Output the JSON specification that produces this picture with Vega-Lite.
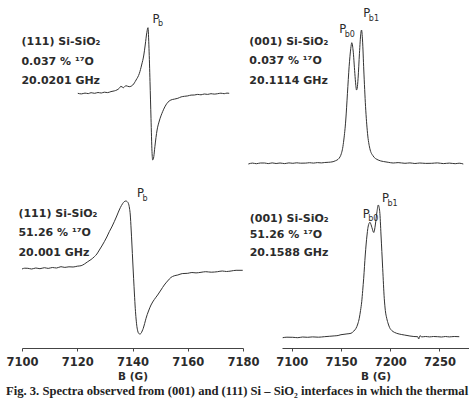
{
  "$schema": "https://vega.github.io/schema/vega-lite/v6.json",
  "background": "white",
  "padding": {"left": 5, "top": 0, "right": 0, "bottom": 0},
  "autosize": {"type": "pad"},
  "title": {
    "text": "Fig. 3. Spectra observed from (001) and (111) Si – SiO₂ interfaces in which the thermal",
    "orient": "bottom",
    "anchor": "start",
    "frame": "bounds",
    "font": "Liberation Serif",
    "fontSize": 12.6,
    "fontWeight": "bold",
    "color": "#222222",
    "offset": 3
  },
  "datasets": {
    "spectra": [
      {"panel": "TL", "B": 7120.2, "I": 0.2}, {"panel": "TL", "B": 7121.5, "I": -0.4}, {"panel": "TL", "B": 7122.8, "I": 0.4}, {"panel": "TL", "B": 7124.0, "I": -0.1}, {"panel": "TL", "B": 7125.0, "I": 0.8}, {"panel": "TL", "B": 7126.3, "I": 0.2}, {"panel": "TL", "B": 7127.5, "I": 1.0}, {"panel": "TL", "B": 7128.7, "I": 0.5}, {"panel": "TL", "B": 7129.8, "I": 1.3}, {"panel": "TL", "B": 7131.0, "I": 0.9}, {"panel": "TL", "B": 7132.2, "I": 1.9}, {"panel": "TL", "B": 7133.4, "I": 2.6}, {"panel": "TL", "B": 7134.4, "I": 3.6}, {"panel": "TL", "B": 7135.2, "I": 5.2}, {"panel": "TL", "B": 7135.8, "I": 7.2}, {"panel": "TL", "B": 7136.7, "I": 5.8}, {"panel": "TL", "B": 7137.6, "I": 7.8}, {"panel": "TL", "B": 7138.8, "I": 6.8}, {"panel": "TL", "B": 7140.1, "I": 8.5}, {"panel": "TL", "B": 7141.3, "I": 13.5}, {"panel": "TL", "B": 7142.5, "I": 20.2}, {"panel": "TL", "B": 7143.3, "I": 28.5}, {"panel": "TL", "B": 7144.1, "I": 38.5}, {"panel": "TL", "B": 7144.6, "I": 48.5}, {"panel": "TL", "B": 7145.2, "I": 61.2}, {"panel": "TL", "B": 7145.6, "I": 65.8}, {"panel": "TL", "B": 7145.97, "I": 45.2}, {"panel": "TL", "B": 7146.34, "I": 11.8}, {"panel": "TL", "B": 7146.7, "I": -24.8}, {"panel": "TL", "B": 7147.06, "I": -58.2}, {"panel": "TL", "B": 7147.31, "I": -66.5}, {"panel": "TL", "B": 7147.7, "I": -63.2}, {"panel": "TL", "B": 7148.1, "I": -53.2}, {"panel": "TL", "B": 7148.9, "I": -36.5}, {"panel": "TL", "B": 7149.7, "I": -27.5}, {"panel": "TL", "B": 7150.9, "I": -18.2}, {"panel": "TL", "B": 7152.5, "I": -9.8}, {"panel": "TL", "B": 7153.9, "I": -6.5}, {"panel": "TL", "B": 7155.2, "I": -5.6}, {"panel": "TL", "B": 7156.4, "I": -4.8}, {"panel": "TL", "B": 7157.6, "I": -3.4}, {"panel": "TL", "B": 7158.8, "I": -2.8}, {"panel": "TL", "B": 7160.0, "I": -2.4}, {"panel": "TL", "B": 7161.2, "I": -1.6}, {"panel": "TL", "B": 7162.4, "I": -1.5}, {"panel": "TL", "B": 7163.6, "I": -0.9}, {"panel": "TL", "B": 7164.8, "I": -1.3}, {"panel": "TL", "B": 7166.0, "I": -0.5}, {"panel": "TL", "B": 7167.2, "I": -0.9}, {"panel": "TL", "B": 7168.4, "I": -0.2}, {"panel": "TL", "B": 7169.6, "I": -0.6}, {"panel": "TL", "B": 7170.8, "I": -0.2}, {"panel": "TL", "B": 7172.0, "I": 0.3}, {"panel": "TL", "B": 7173.2, "I": -0.2}, {"panel": "TL", "B": 7174.2, "I": 0.4}, {"panel": "TL", "B": 7175.0, "I": 0.2},

      {"panel": "TR", "B": 7055.8, "I": -0.7}, {"panel": "TR", "B": 7060, "I": 0.2}, {"panel": "TR", "B": 7064, "I": -0.4}, {"panel": "TR", "B": 7068, "I": 0.3}, {"panel": "TR", "B": 7072.3, "I": 0.3}, {"panel": "TR", "B": 7076, "I": -0.3}, {"panel": "TR", "B": 7080, "I": 0.4}, {"panel": "TR", "B": 7084, "I": -0.2}, {"panel": "TR", "B": 7088, "I": 0.3}, {"panel": "TR", "B": 7092.7, "I": -0.3}, {"panel": "TR", "B": 7097, "I": 0.4}, {"panel": "TR", "B": 7101, "I": 0.0}, {"panel": "TR", "B": 7105, "I": 0.5}, {"panel": "TR", "B": 7109, "I": 0.1}, {"panel": "TR", "B": 7114.1, "I": 0.2}, {"panel": "TR", "B": 7118, "I": 0.6}, {"panel": "TR", "B": 7122, "I": 0.2}, {"panel": "TR", "B": 7126, "I": 0.7}, {"panel": "TR", "B": 7130, "I": 0.4}, {"panel": "TR", "B": 7133.4, "I": 0.8}, {"panel": "TR", "B": 7137, "I": 1.0}, {"panel": "TR", "B": 7141.9, "I": 1.6}, {"panel": "TR", "B": 7144.5, "I": 2.6}, {"panel": "TR", "B": 7147.0, "I": 4.0}, {"panel": "TR", "B": 7149, "I": 6.5}, {"panel": "TR", "B": 7150.4, "I": 10}, {"panel": "TR", "B": 7151.6, "I": 15}, {"panel": "TR", "B": 7152.8, "I": 23.3}, {"panel": "TR", "B": 7154.8, "I": 43.3}, {"panel": "TR", "B": 7156.5, "I": 70}, {"panel": "TR", "B": 7158.2, "I": 96.6}, {"panel": "TR", "B": 7159.9, "I": 115}, {"panel": "TR", "B": 7160.9, "I": 120.6}, {"panel": "TR", "B": 7162.2, "I": 113.3}, {"panel": "TR", "B": 7164.0, "I": 90}, {"panel": "TR", "B": 7165.0, "I": 78}, {"panel": "TR", "B": 7165.7, "I": 73.3}, {"panel": "TR", "B": 7166.4, "I": 75}, {"panel": "TR", "B": 7167.3, "I": 85}, {"panel": "TR", "B": 7168.7, "I": 110}, {"panel": "TR", "B": 7170.1, "I": 130}, {"panel": "TR", "B": 7170.8, "I": 133.3}, {"panel": "TR", "B": 7171.8, "I": 123.3}, {"panel": "TR", "B": 7173.1, "I": 93.3}, {"panel": "TR", "B": 7174.9, "I": 56.6}, {"panel": "TR", "B": 7176.9, "I": 30}, {"panel": "TR", "B": 7179.2, "I": 15}, {"panel": "TR", "B": 7182.6, "I": 7.3}, {"panel": "TR", "B": 7187.7, "I": 3.3}, {"panel": "TR", "B": 7193, "I": 1.8}, {"panel": "TR", "B": 7197.9, "I": 1.0}, {"panel": "TR", "B": 7203, "I": 0.3}, {"panel": "TR", "B": 7208, "I": 0.7}, {"panel": "TR", "B": 7214.9, "I": 0.0}, {"panel": "TR", "B": 7220, "I": 0.4}, {"panel": "TR", "B": 7225, "I": -0.2}, {"panel": "TR", "B": 7230, "I": 0.3}, {"panel": "TR", "B": 7236, "I": -0.1}, {"panel": "TR", "B": 7242.1, "I": 0.0}, {"panel": "TR", "B": 7248, "I": 0.4}, {"panel": "TR", "B": 7254, "I": -0.3}, {"panel": "TR", "B": 7260, "I": 0.2}, {"panel": "TR", "B": 7266, "I": -0.4}, {"panel": "TR", "B": 7270, "I": 0.1}, {"panel": "TR", "B": 7274.2, "I": -0.7},

      {"panel": "BL", "B": 7100.0, "I": 1.0}, {"panel": "BL", "B": 7101.0, "I": 1.8}, {"panel": "BL", "B": 7102.1, "I": 1.7}, {"panel": "BL", "B": 7103.5, "I": 1.0}, {"panel": "BL", "B": 7105.0, "I": 2.0}, {"panel": "BL", "B": 7106.5, "I": 1.3}, {"panel": "BL", "B": 7108.1, "I": 2.3}, {"panel": "BL", "B": 7109.5, "I": 1.6}, {"panel": "BL", "B": 7111.0, "I": 2.5}, {"panel": "BL", "B": 7112.5, "I": 2.0}, {"panel": "BL", "B": 7114.1, "I": 3.3}, {"panel": "BL", "B": 7115.5, "I": 2.6}, {"panel": "BL", "B": 7117.0, "I": 3.2}, {"panel": "BL", "B": 7118.5, "I": 3.0}, {"panel": "BL", "B": 7120.0, "I": 3.8}, {"panel": "BL", "B": 7121.4, "I": 4.3}, {"panel": "BL", "B": 7122.6, "I": 6.0}, {"panel": "BL", "B": 7123.8, "I": 8.3}, {"panel": "BL", "B": 7125.0, "I": 10.5}, {"panel": "BL", "B": 7126.2, "I": 13.3}, {"panel": "BL", "B": 7127.1, "I": 16}, {"panel": "BL", "B": 7128.0, "I": 20}, {"panel": "BL", "B": 7128.9, "I": 24}, {"panel": "BL", "B": 7129.8, "I": 28.3}, {"panel": "BL", "B": 7130.7, "I": 33}, {"panel": "BL", "B": 7131.6, "I": 38.3}, {"panel": "BL", "B": 7132.5, "I": 43}, {"panel": "BL", "B": 7133.4, "I": 48.3}, {"panel": "BL", "B": 7134.3, "I": 54}, {"panel": "BL", "B": 7135.2, "I": 60}, {"panel": "BL", "B": 7136.0, "I": 64.5}, {"panel": "BL", "B": 7136.5, "I": 66.7}, {"panel": "BL", "B": 7137.0, "I": 68.3}, {"panel": "BL", "B": 7137.6, "I": 69}, {"panel": "BL", "B": 7138.1, "I": 68.3}, {"panel": "BL", "B": 7138.5, "I": 66.7}, {"panel": "BL", "B": 7138.9, "I": 62}, {"panel": "BL", "B": 7139.2, "I": 55}, {"panel": "BL", "B": 7139.5, "I": 41}, {"panel": "BL", "B": 7139.8, "I": 25}, {"panel": "BL", "B": 7140.1, "I": 8}, {"panel": "BL", "B": 7140.4, "I": -8.3}, {"panel": "BL", "B": 7140.7, "I": -24}, {"panel": "BL", "B": 7141.0, "I": -38.3}, {"panel": "BL", "B": 7141.3, "I": -49}, {"panel": "BL", "B": 7141.6, "I": -56.7}, {"panel": "BL", "B": 7141.9, "I": -61}, {"panel": "BL", "B": 7142.2, "I": -63.3}, {"panel": "BL", "B": 7142.7, "I": -64}, {"panel": "BL", "B": 7143.1, "I": -63.3}, {"panel": "BL", "B": 7143.5, "I": -61}, {"panel": "BL", "B": 7143.9, "I": -58.3}, {"panel": "BL", "B": 7144.4, "I": -53.5}, {"panel": "BL", "B": 7144.9, "I": -48.3}, {"panel": "BL", "B": 7145.8, "I": -41}, {"panel": "BL", "B": 7146.7, "I": -35}, {"panel": "BL", "B": 7147.9, "I": -29.5}, {"panel": "BL", "B": 7149.1, "I": -25}, {"panel": "BL", "B": 7150.3, "I": -20}, {"panel": "BL", "B": 7151.5, "I": -15}, {"panel": "BL", "B": 7152.7, "I": -11}, {"panel": "BL", "B": 7153.9, "I": -7.5}, {"panel": "BL", "B": 7155.1, "I": -5.8}, {"panel": "BL", "B": 7156.4, "I": -5}, {"panel": "BL", "B": 7158.0, "I": -3.6}, {"panel": "BL", "B": 7160.0, "I": -3.3}, {"panel": "BL", "B": 7161.5, "I": -2.5}, {"panel": "BL", "B": 7163.0, "I": -2.9}, {"panel": "BL", "B": 7164.8, "I": -2.3}, {"panel": "BL", "B": 7166.5, "I": -1.7}, {"panel": "BL", "B": 7168.5, "I": -2.2}, {"panel": "BL", "B": 7170.8, "I": -1.7}, {"panel": "BL", "B": 7172.5, "I": -1.0}, {"panel": "BL", "B": 7174.0, "I": -1.5}, {"panel": "BL", "B": 7175.7, "I": -1.0}, {"panel": "BL", "B": 7177.5, "I": -0.3}, {"panel": "BL", "B": 7179.9, "I": -0.3},

      {"panel": "BR", "B": 7090.7, "I": -0.2}, {"panel": "BR", "B": 7095, "I": 0.3}, {"panel": "BR", "B": 7100.9, "I": 0.2}, {"panel": "BR", "B": 7106, "I": -0.2}, {"panel": "BR", "B": 7111, "I": 0.5}, {"panel": "BR", "B": 7116, "I": 0.2}, {"panel": "BR", "B": 7121, "I": 0.6}, {"panel": "BR", "B": 7127, "I": 0.3}, {"panel": "BR", "B": 7133.0, "I": 0.8}, {"panel": "BR", "B": 7138, "I": 1.2}, {"panel": "BR", "B": 7143, "I": 1.6}, {"panel": "BR", "B": 7147, "I": 2.0}, {"panel": "BR", "B": 7149.9, "I": 2.8}, {"panel": "BR", "B": 7153, "I": 3.2}, {"panel": "BR", "B": 7156, "I": 3.6}, {"panel": "BR", "B": 7160.1, "I": 4.2}, {"panel": "BR", "B": 7163, "I": 6.5}, {"panel": "BR", "B": 7165.2, "I": 9.2}, {"panel": "BR", "B": 7167, "I": 13.5}, {"panel": "BR", "B": 7168.5, "I": 19.2}, {"panel": "BR", "B": 7169.8, "I": 27}, {"panel": "BR", "B": 7171.0, "I": 35.8}, {"panel": "BR", "B": 7172.0, "I": 47}, {"panel": "BR", "B": 7173.0, "I": 59.2}, {"panel": "BR", "B": 7174.6, "I": 82.5}, {"panel": "BR", "B": 7175.5, "I": 93.5}, {"panel": "BR", "B": 7176.4, "I": 102.5}, {"panel": "BR", "B": 7177.2, "I": 109}, {"panel": "BR", "B": 7178.1, "I": 113.2}, {"panel": "BR", "B": 7179.4, "I": 115.2}, {"panel": "BR", "B": 7180.4, "I": 113}, {"panel": "BR", "B": 7181.4, "I": 109.8}, {"panel": "BR", "B": 7183.2, "I": 105}, {"panel": "BR", "B": 7184.0, "I": 107.5}, {"panel": "BR", "B": 7184.8, "I": 112.5}, {"panel": "BR", "B": 7186.5, "I": 125.8}, {"panel": "BR", "B": 7187.8, "I": 132.5}, {"panel": "BR", "B": 7189.3, "I": 125.8}, {"panel": "BR", "B": 7190.6, "I": 102.5}, {"panel": "BR", "B": 7192.3, "I": 69.2}, {"panel": "BR", "B": 7193.9, "I": 39.2}, {"panel": "BR", "B": 7195.0, "I": 27}, {"panel": "BR", "B": 7196.4, "I": 19.2}, {"panel": "BR", "B": 7198.0, "I": 13.5}, {"panel": "BR", "B": 7199.4, "I": 9.8}, {"panel": "BR", "B": 7201.5, "I": 7}, {"panel": "BR", "B": 7204.1, "I": 5.2}, {"panel": "BR", "B": 7209, "I": 3.5}, {"panel": "BR", "B": 7214.3, "I": 2.5}, {"panel": "BR", "B": 7220, "I": 1.5}, {"panel": "BR", "B": 7224, "I": 1.0}, {"panel": "BR", "B": 7227.9, "I": 0.8}, {"panel": "BR", "B": 7228.9, "I": -1.5}, {"panel": "BR", "B": 7230.2, "I": 1.8}, {"panel": "BR", "B": 7232, "I": 0.6}, {"panel": "BR", "B": 7236, "I": 1.0}, {"panel": "BR", "B": 7240, "I": 0.6}, {"panel": "BR", "B": 7244, "I": 1.0}, {"panel": "BR", "B": 7248.2, "I": 0.8}, {"panel": "BR", "B": 7252, "I": 0.5}, {"panel": "BR", "B": 7256, "I": 1.0}, {"panel": "BR", "B": 7260, "I": 0.6}, {"panel": "BR", "B": 7265, "I": 1.0}, {"panel": "BR", "B": 7270.1, "I": 0.8}
    ],
    "notes": [
      {"panel": "TL", "role": "main", "B": 7099.8, "I": 48.5, "t": "(111) Si-SiO₂"},
      {"panel": "TL", "role": "main", "B": 7099.8, "I": 29, "t": "0.037 % ¹⁷O"},
      {"panel": "TL", "role": "main", "B": 7099.8, "I": 10, "t": "20.0201 GHz"},
      {"panel": "TL", "role": "P", "B": 7147.2, "I": 70.8, "t": "P"},
      {"panel": "TL", "role": "sub", "B": 7149.2, "I": 67.5, "t": "b"},

      {"panel": "TR", "role": "main", "B": 7056.8, "I": 118.3, "t": "(001) Si-SiO₂"},
      {"panel": "TR", "role": "main", "B": 7056.8, "I": 99.3, "t": "0.037 % ¹⁷O"},
      {"panel": "TR", "role": "main", "B": 7056.8, "I": 79.8, "t": "20.1114 GHz"},
      {"panel": "TR", "role": "P", "B": 7148.2, "I": 130, "t": "P"},
      {"panel": "TR", "role": "sub", "B": 7153.8, "I": 126, "t": "b0"},
      {"panel": "TR", "role": "P", "B": 7172.6, "I": 146.6, "t": "P"},
      {"panel": "TR", "role": "sub", "B": 7178.2, "I": 142.6, "t": "b1"},

      {"panel": "BL", "role": "main", "B": 7098.7, "I": 53.5, "t": "(111) Si-SiO₂"},
      {"panel": "BL", "role": "main", "B": 7098.7, "I": 34, "t": "51.26 % ¹⁷O"},
      {"panel": "BL", "role": "main", "B": 7098.7, "I": 14, "t": "20.001 GHz"},
      {"panel": "BL", "role": "P", "B": 7141.6, "I": 73, "t": "P"},
      {"panel": "BL", "role": "sub", "B": 7143.6, "I": 69, "t": "b"},

      {"panel": "BR", "role": "main", "B": 7057.2, "I": 116, "t": "(001) Si-SiO₂"},
      {"panel": "BR", "role": "main", "B": 7057.2, "I": 99.5, "t": "51.26 % ¹⁷O"},
      {"panel": "BR", "role": "main", "B": 7057.2, "I": 81.5, "t": "20.1588 GHz"},
      {"panel": "BR", "role": "P", "B": 7172.0, "I": 119.5, "t": "P"},
      {"panel": "BR", "role": "sub", "B": 7177.6, "I": 116.2, "t": "b0"},
      {"panel": "BR", "role": "P", "B": 7191.6, "I": 135.2, "t": "P"},
      {"panel": "BR", "role": "sub", "B": 7197.2, "I": 132, "t": "b1"}
    ]
  },
  "columns": 2,
  "spacing": {"row": 15, "column": 39},
  "bounds": "flush",
  "concat": [
    {
      "width": 221, "height": 175,
      "encoding": {
        "x": {"field": "B", "type": "quantitative", "scale": {"domain": [7100, 7180], "nice": false, "zero": false}, "axis": null},
        "y": {"field": "I", "type": "quantitative", "scale": {"domain": [-81.5, 93.5], "nice": false, "zero": false}, "axis": null}
      },
      "layer": [
        {"data": {"name": "spectra"}, "transform": [{"filter": {"field": "panel", "equal": "TL"}}], "mark": {"type": "line", "color": "#333333", "strokeWidth": 1, "interpolate": "monotone", "clip": false}},
        {"data": {"name": "notes"}, "transform": [{"filter": {"field": "panel", "equal": "TL"}}, {"filter": {"field": "role", "equal": "main"}}], "mark": {"type": "text", "align": "left", "baseline": "alphabetic", "fontSize": 11, "fontWeight": "bold", "clip": false}, "encoding": {"text": {"field": "t"}}},
        {"data": {"name": "notes"}, "transform": [{"filter": {"field": "panel", "equal": "TL"}}, {"filter": {"field": "role", "equal": "P"}}], "mark": {"type": "text", "align": "left", "baseline": "alphabetic", "fontSize": 11.5, "fontWeight": "normal", "clip": false}, "encoding": {"text": {"field": "t"}}},
        {"data": {"name": "notes"}, "transform": [{"filter": {"field": "panel", "equal": "TL"}}, {"filter": {"field": "role", "equal": "sub"}}], "mark": {"type": "text", "align": "left", "baseline": "alphabetic", "fontSize": 8, "fontWeight": "normal", "clip": false}, "encoding": {"text": {"field": "t"}}}
      ]
    },
    {
      "width": 187, "height": 175,
      "encoding": {
        "x": {"field": "B", "type": "quantitative", "scale": {"domain": [7090, 7280], "nice": false, "zero": false}, "axis": null},
        "y": {"field": "I", "type": "quantitative", "scale": {"domain": [-11.7, 163.3], "nice": false, "zero": false}, "axis": null}
      },
      "layer": [
        {"data": {"name": "spectra"}, "transform": [{"filter": {"field": "panel", "equal": "TR"}}], "mark": {"type": "line", "color": "#333333", "strokeWidth": 1, "interpolate": "monotone", "clip": false}},
        {"data": {"name": "notes"}, "transform": [{"filter": {"field": "panel", "equal": "TR"}}, {"filter": {"field": "role", "equal": "main"}}], "mark": {"type": "text", "align": "left", "baseline": "alphabetic", "fontSize": 11, "fontWeight": "bold", "clip": false}, "encoding": {"text": {"field": "t"}}},
        {"data": {"name": "notes"}, "transform": [{"filter": {"field": "panel", "equal": "TR"}}, {"filter": {"field": "role", "equal": "P"}}], "mark": {"type": "text", "align": "left", "baseline": "alphabetic", "fontSize": 11.5, "fontWeight": "normal", "clip": false}, "encoding": {"text": {"field": "t"}}},
        {"data": {"name": "notes"}, "transform": [{"filter": {"field": "panel", "equal": "TR"}}, {"filter": {"field": "role", "equal": "sub"}}], "mark": {"type": "text", "align": "left", "baseline": "alphabetic", "fontSize": 8, "fontWeight": "normal", "clip": false}, "encoding": {"text": {"field": "t"}}}
      ]
    },
    {
      "width": 221, "height": 158,
      "encoding": {
        "x": {"field": "B", "type": "quantitative", "scale": {"domain": [7100, 7180], "nice": false, "zero": false}, "axis": {"values": [7100, 7120, 7140, 7160, 7180], "format": "d", "title": "B (G)"}},
        "y": {"field": "I", "type": "quantitative", "scale": {"domain": [-78, 80], "nice": false, "zero": false}, "axis": null}
      },
      "layer": [
        {"data": {"name": "spectra"}, "transform": [{"filter": {"field": "panel", "equal": "BL"}}], "mark": {"type": "line", "color": "#333333", "strokeWidth": 1, "interpolate": "monotone", "clip": false}},
        {"data": {"name": "notes"}, "transform": [{"filter": {"field": "panel", "equal": "BL"}}, {"filter": {"field": "role", "equal": "main"}}], "mark": {"type": "text", "align": "left", "baseline": "alphabetic", "fontSize": 11, "fontWeight": "bold", "clip": false}, "encoding": {"text": {"field": "t"}}},
        {"data": {"name": "notes"}, "transform": [{"filter": {"field": "panel", "equal": "BL"}}, {"filter": {"field": "role", "equal": "P"}}], "mark": {"type": "text", "align": "left", "baseline": "alphabetic", "fontSize": 11.5, "fontWeight": "normal", "clip": false}, "encoding": {"text": {"field": "t"}}},
        {"data": {"name": "notes"}, "transform": [{"filter": {"field": "panel", "equal": "BL"}}, {"filter": {"field": "role", "equal": "sub"}}], "mark": {"type": "text", "align": "left", "baseline": "alphabetic", "fontSize": 8, "fontWeight": "normal", "clip": false}, "encoding": {"text": {"field": "t"}}}
      ]
    },
    {
      "width": 187, "height": 158,
      "encoding": {
        "x": {"field": "B", "type": "quantitative", "scale": {"domain": [7090, 7280], "nice": false, "zero": false}, "axis": {"values": [7100, 7150, 7200, 7250], "format": "d", "title": "B (G)"}},
        "y": {"field": "I", "type": "quantitative", "scale": {"domain": [-10.5, 147.5], "nice": false, "zero": false}, "axis": null}
      },
      "layer": [
        {"data": {"name": "spectra"}, "transform": [{"filter": {"field": "panel", "equal": "BR"}}], "mark": {"type": "line", "color": "#333333", "strokeWidth": 1, "interpolate": "monotone", "clip": false}},
        {"data": {"name": "notes"}, "transform": [{"filter": {"field": "panel", "equal": "BR"}}, {"filter": {"field": "role", "equal": "main"}}], "mark": {"type": "text", "align": "left", "baseline": "alphabetic", "fontSize": 11, "fontWeight": "bold", "clip": false}, "encoding": {"text": {"field": "t"}}},
        {"data": {"name": "notes"}, "transform": [{"filter": {"field": "panel", "equal": "BR"}}, {"filter": {"field": "role", "equal": "P"}}], "mark": {"type": "text", "align": "left", "baseline": "alphabetic", "fontSize": 11.5, "fontWeight": "normal", "clip": false}, "encoding": {"text": {"field": "t"}}},
        {"data": {"name": "notes"}, "transform": [{"filter": {"field": "panel", "equal": "BR"}}, {"filter": {"field": "role", "equal": "sub"}}], "mark": {"type": "text", "align": "left", "baseline": "alphabetic", "fontSize": 8, "fontWeight": "normal", "clip": false}, "encoding": {"text": {"field": "t"}}}
      ]
    }
  ],
  "config": {
    "view": {"stroke": null},
    "font": "DejaVu Sans",
    "text": {"font": "DejaVu Sans", "color": "#2b2b2b"},
    "axis": {
      "grid": false,
      "domainColor": "#444444",
      "domainWidth": 1,
      "tickColor": "#444444",
      "tickSize": 3,
      "labelFont": "DejaVu Sans",
      "labelFontWeight": "bold",
      "labelFontSize": 11.5,
      "labelColor": "#2b2b2b",
      "labelPadding": 5,
      "labelFlush": false,
      "labelOverlap": false,
      "titleFont": "DejaVu Sans",
      "titleFontWeight": "bold",
      "titleFontSize": 10.5,
      "titleColor": "#2b2b2b",
      "titlePadding": 4
    }
  }
}
